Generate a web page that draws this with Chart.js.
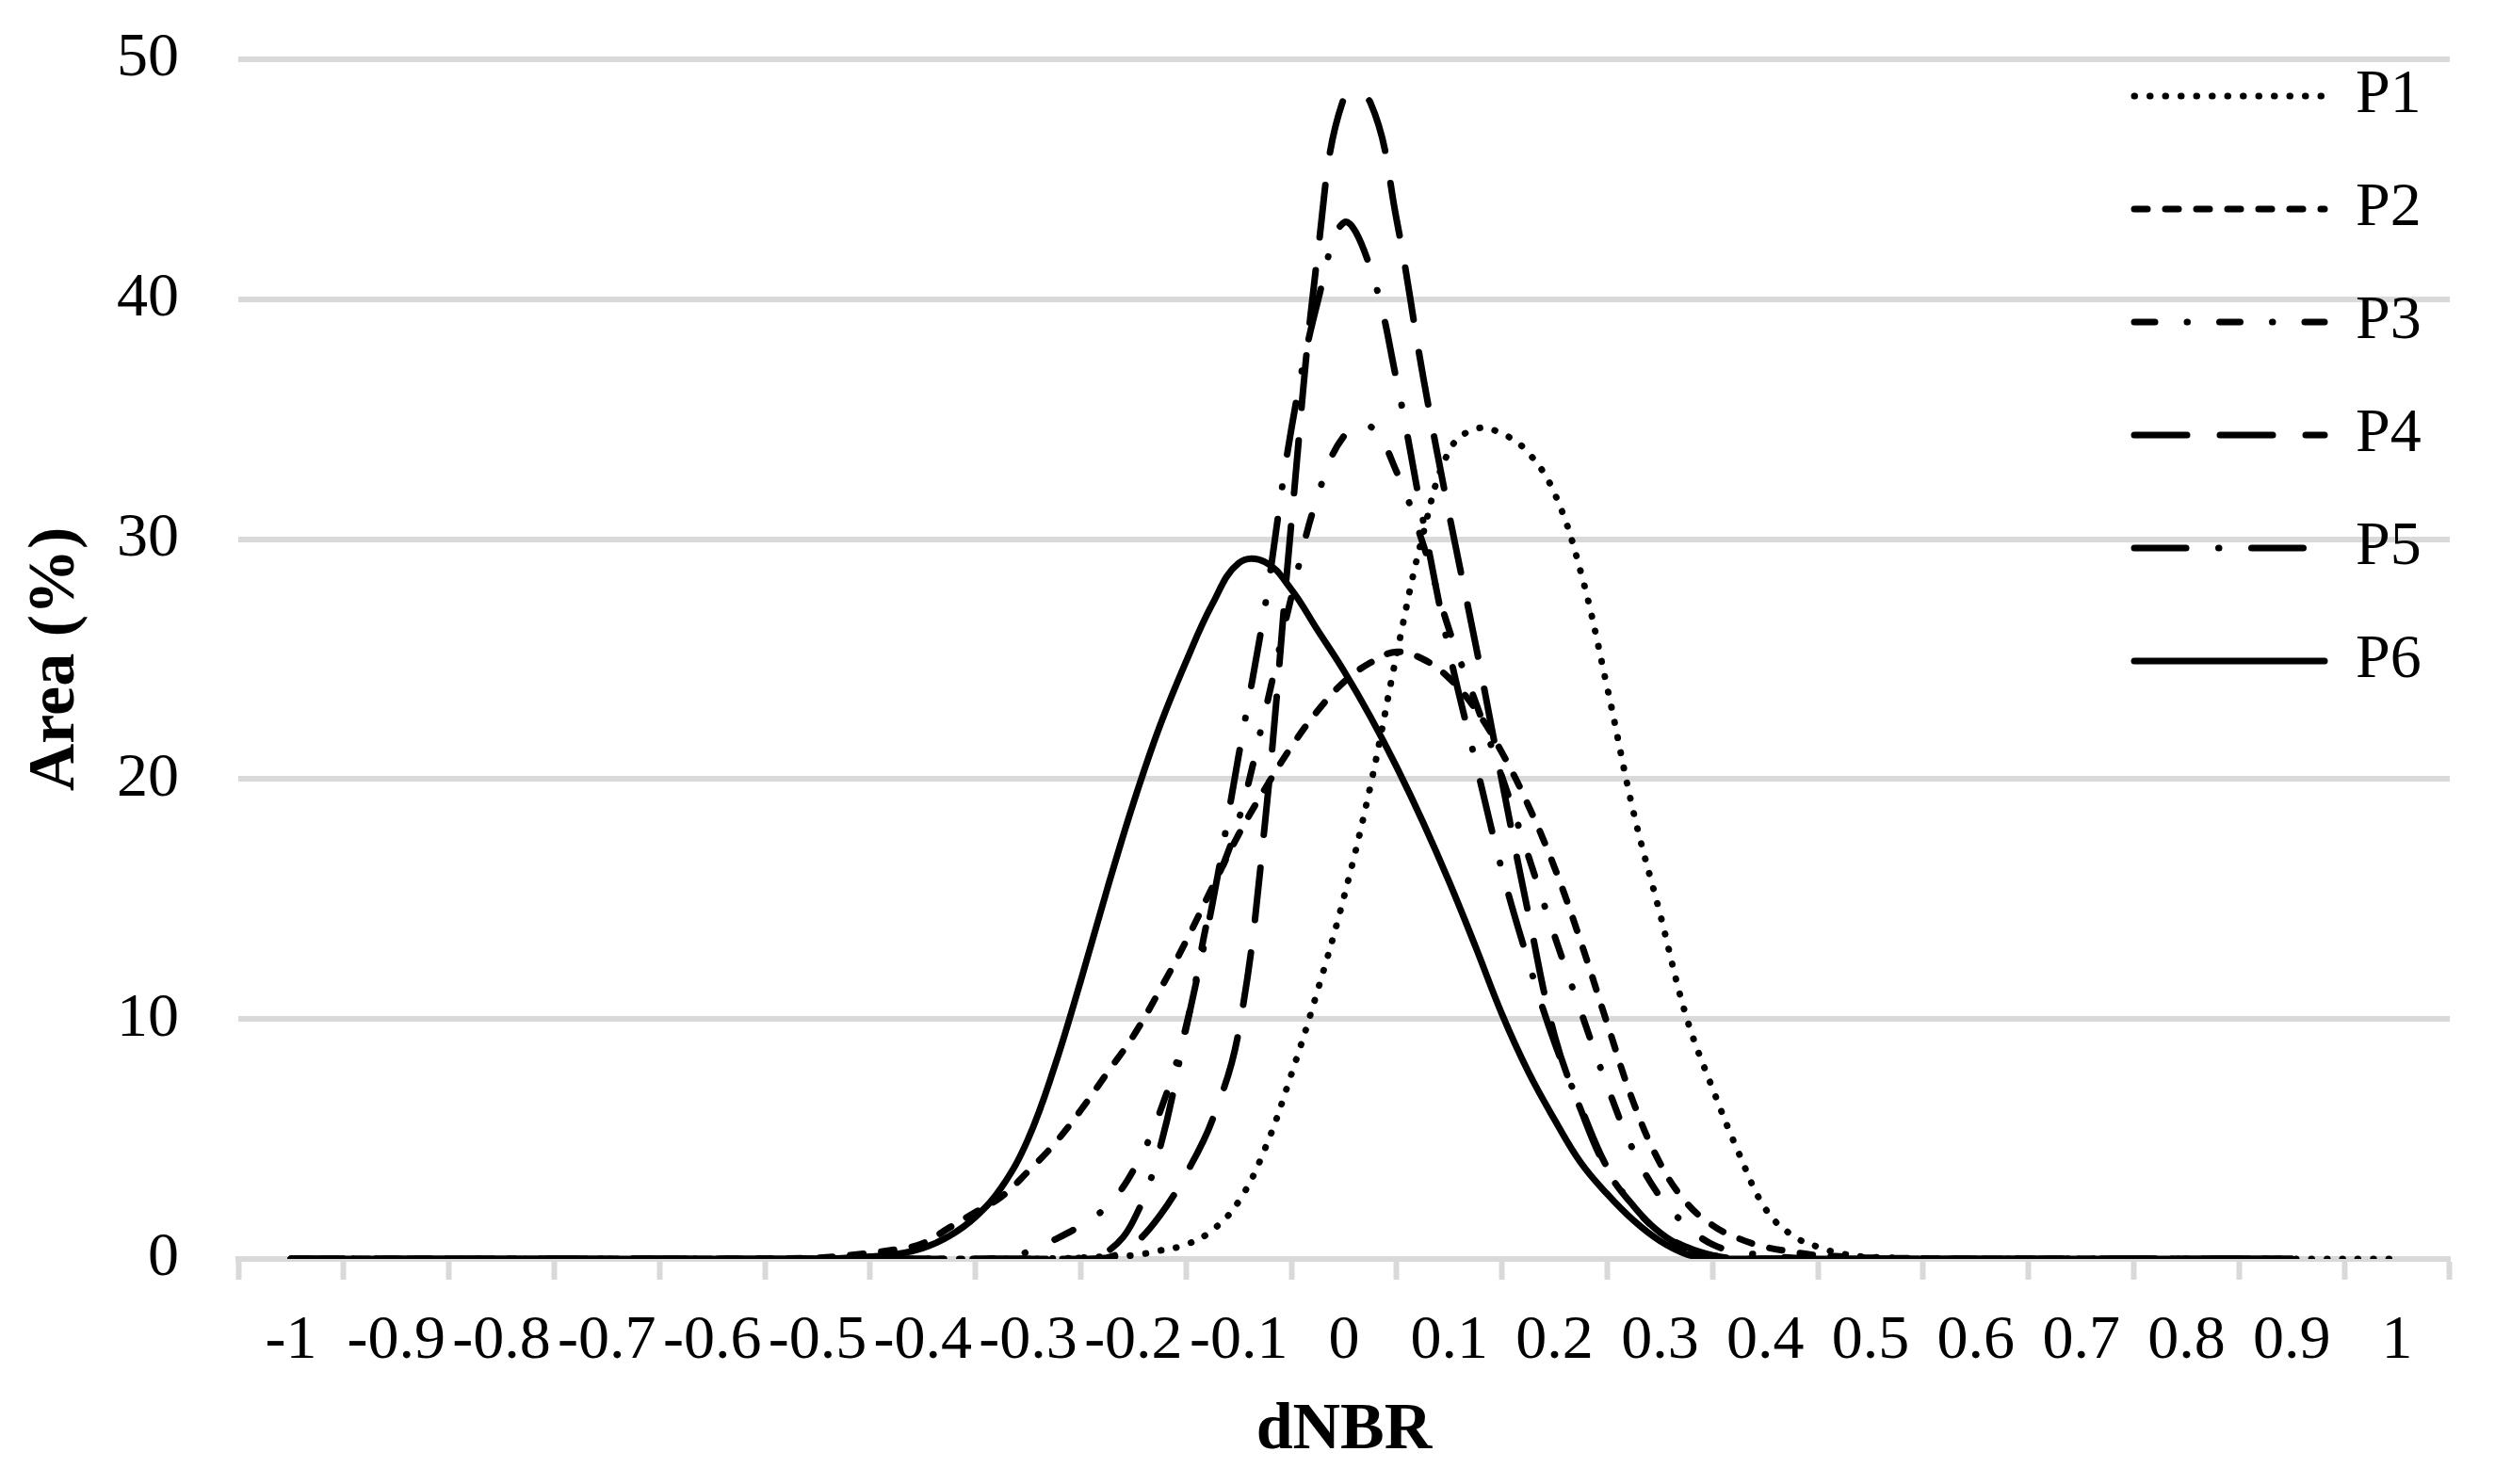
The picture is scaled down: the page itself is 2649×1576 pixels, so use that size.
<!DOCTYPE html>
<html>
<head>
<meta charset="utf-8">
<script src="https://cdn.jsdelivr.net/npm/chart.js@4.4.1/dist/chart.umd.min.js"></script>
<style>
  body { margin: 0; background: #fff; }
  canvas { display: block; }
</style>
</head>
<body>
<canvas id="myChart" width="2649" height="1576"></canvas>
<script>
// dNBR positions of the points (finer step where the curves move)
const dnbr = [
  -1, -0.9, -0.8, -0.7, -0.6, -0.5,
  -0.45, -0.425, -0.4, -0.375, -0.35, -0.325, -0.3, -0.275, -0.25, -0.225,
  -0.2, -0.175, -0.15, -0.125, -0.1, -0.075, -0.05, -0.025, 0, 0.025,
  0.05, 0.075, 0.1, 0.125, 0.15, 0.175, 0.2, 0.225, 0.25, 0.275,
  0.3, 0.325, 0.35, 0.375, 0.4, 0.425, 0.45, 0.475, 0.5,
  0.6, 0.7, 0.8, 0.9, 1,
];

const xTicks = [-1, -0.9, -0.8, -0.7, -0.6, -0.5, -0.4, -0.3, -0.2, -0.1, 0,
  0.1, 0.2, 0.3, 0.4, 0.5, 0.6, 0.7, 0.8, 0.9, 1];
const xTickLabels = ["-1", "-0.9", "-0.8", "-0.7", "-0.6", "-0.5", "-0.4", "-0.3", "-0.2", "-0.1", "0",
  "0.1", "0.2", "0.3", "0.4", "0.5", "0.6", "0.7", "0.8", "0.9", "1"];

const seriesNames = ["P1", "P2", "P3", "P4", "P5", "P6"];

// Area (%) per series
const p1 = [0, 0, 0, 0, 0, 0,
  0, 0, 0, 0, 0, 0, 0, 0.02, 0.05, 0.1,
  0.15, 0.35, 0.6, 1.2, 2.4, 4.6, 7.7, 11.2, 15.1, 19.7,
  25.2, 30.2, 33.7, 34.6, 34.4, 33.6, 31.9, 28.6, 23.8, 18.6,
  14.4, 10.1, 7.1, 4.4, 2.1, 1.0, 0.5, 0.2, 0.08,
  0, 0, 0, 0, 0];
const p2 = [0, 0, 0, 0, 0, 0.05,
  0.25, 0.4, 0.65, 1.3, 1.95, 2.6, 3.65, 4.8, 6.2, 7.75,
  9.3, 11.2, 13.25, 15.5, 17.7, 19.6, 21.35, 22.85, 24.05, 24.85,
  25.3, 25.0, 24.2, 22.9, 21.1, 18.9, 16.3, 13.2, 9.8, 6.5,
  4.0, 2.35, 1.4, 0.85, 0.5, 0.3, 0.15, 0.1, 0.05,
  0, 0, 0, 0, null];
const p3 = [0, 0, 0, 0, 0, 0,
  0, 0, 0, 0, 0, 0.05, 0.3, 0.8, 1.4, 2.2,
  3.7, 6.1, 9.7, 15.0, 18.3, 22.8, 27.6, 31.8, 34.3, 34.7,
  32.8, 29.8, 26.2, 23.2, 20.1, 16.8, 13.45, 10.3, 7.2, 4.5,
  2.6, 1.4, 0.6, 0.3, 0.15, 0.05, 0, 0, 0,
  0, 0, 0, 0, null];
const p4 = [0, 0, 0, 0, 0, 0,
  0, 0, 0, 0, 0, 0, 0, 0, 0, 0.05,
  0.6, 1.8, 3.55, 5.8, 9.5, 18.2, 30.7, 41.9, 48.4, 48.2,
  43.3, 36.8, 31.0, 25.6, 19.9, 14.4, 9.3, 6.2, 3.7, 2.2,
  1.1, 0.5, 0.15, 0, 0, 0, 0, 0, 0,
  0, 0, 0, 0, null];
const p5 = [0, 0, 0, 0, 0, 0,
  0, 0, 0, 0, 0, 0, 0, 0, 0.05, 0.3,
  1.6, 4.6, 9.6, 14.8, 21.0, 27.2, 34.6, 39.9, 43.2, 41.3,
  36.6, 30.8, 25.3, 20.7, 16.2, 12.4, 9.0, 6.3, 3.8, 2.2,
  1.1, 0.45, 0.15, 0, 0, 0, 0, 0, 0,
  0, 0, 0, 0, null];
const p6 = [0, 0, 0, 0, 0, 0,
  0.1, 0.2, 0.45, 0.95, 1.75, 3.0, 5.0, 8.0, 11.6, 15.4,
  19.0, 22.2, 24.9, 27.3, 29.0, 29.05, 27.9, 26.2, 24.5, 22.6,
  20.5, 18.2, 15.7, 13.0, 10.2, 7.8, 5.8, 4.0, 2.7, 1.6,
  0.75, 0.2, 0, 0, 0, 0, 0, 0, 0,
  0, 0, 0, 0, null];

const seriesValues = [p1, p2, p3, p4, p5, p6];

// line patterns: dot, dash, dash-dot, long dash, long dash-dot, solid
const dashPatterns = [
  [0.5, 16],
  [14, 19],
  [22, 34, 0.5, 34],
  [56, 35],
  [55, 34.5, 0.5, 34.5],
  [],
];

Chart.defaults.font.family = "'Liberation Serif', 'Times New Roman', serif";
Chart.defaults.color = "#000";

const datasets = seriesNames.map((name, s) => ({
  label: name,
  data: dnbr.map((x, i) => ({ x: x, y: seriesValues[s][i] })),
  borderColor: "#000",
  backgroundColor: "#000",
  borderWidth: 7,
  borderDash: dashPatterns[s],
  borderCapStyle: "round",
  borderJoinStyle: "round",
  pointRadius: 0,
  tension: 0.4,
  fill: false,
}));

// put the legend inside the plot, top right
const legendSpot = {
  id: "legendSpot",
  afterLayout(chart) {
    chart.legend.left = 2212;
    chart.legend.top = 15;
  },
};

const ctx = document.getElementById("myChart");

new Chart(ctx, {
  type: "line",
  data: { datasets: datasets },
  options: {
    responsive: false,
    animation: false,
    devicePixelRatio: 1,
    layout: { padding: { top: 63, right: 48, bottom: 0, left: 0 } },
    scales: {
      x: {
        type: "linear",
        min: -1.05,
        max: 1.05,
        afterBuildTicks: (scale) => {
          scale.ticks = xTicks.map((v) => ({ value: v }));
        },
        afterFit: (scale) => {
          scale.height = 239;
        },
        ticks: {
          autoSkip: false,
          maxRotation: 0,
          minRotation: 0,
          padding: 26,
          color: "#000",
          font: { size: 66 },
          callback: (value, index) => xTickLabels[index],
        },
        grid: {
          drawOnChartArea: false,
          drawTicks: true,
          tickLength: 22,
          tickWidth: 6,
          tickColor: "#d9d9d9",
          offset: true,
        },
        border: { display: true, color: "#d9d9d9", width: 6 },
        title: {
          display: true,
          text: "dNBR",
          color: "#000",
          font: { size: 70, weight: "bold" },
          padding: { top: 0, bottom: 14 },
        },
      },
      y: {
        min: 0,
        max: 50,
        afterFit: (scale) => {
          scale.width = 253;
        },
        ticks: {
          stepSize: 10,
          padding: 0,
          color: "#000",
          font: { size: 66 },
        },
        // invisible tick marks keep the labels away from the plot
        grid: {
          color: "#d9d9d9",
          lineWidth: 6,
          drawTicks: true,
          tickLength: 63,
          tickColor: "rgba(0,0,0,0)",
        },
        border: { display: false },
        title: {
          display: true,
          text: "Area (%)",
          color: "#000",
          font: { size: 70, weight: "bold" },
          padding: { top: 18, bottom: 0 },
        },
      },
    },
    plugins: {
      tooltip: { enabled: false },
      legend: {
        position: "chartArea",
        align: "start",
        labels: {
          usePointStyle: true,
          pointStyleWidth: 202,
          padding: 54,
          color: "#000",
          font: { size: 66 },
          generateLabels: (chart) =>
            chart.data.datasets.map((ds, i) => ({
              text: ds.label,
              datasetIndex: i,
              hidden: false,
              strokeStyle: "#000",
              fillStyle: "rgba(0,0,0,0)",
              lineWidth: 7,
              lineDash: ds.borderDash,
              lineCap: "round",
              pointStyle: "line",
            })),
        },
      },
    },
  },
  plugins: [legendSpot],
});
</script>
</body>
</html>
